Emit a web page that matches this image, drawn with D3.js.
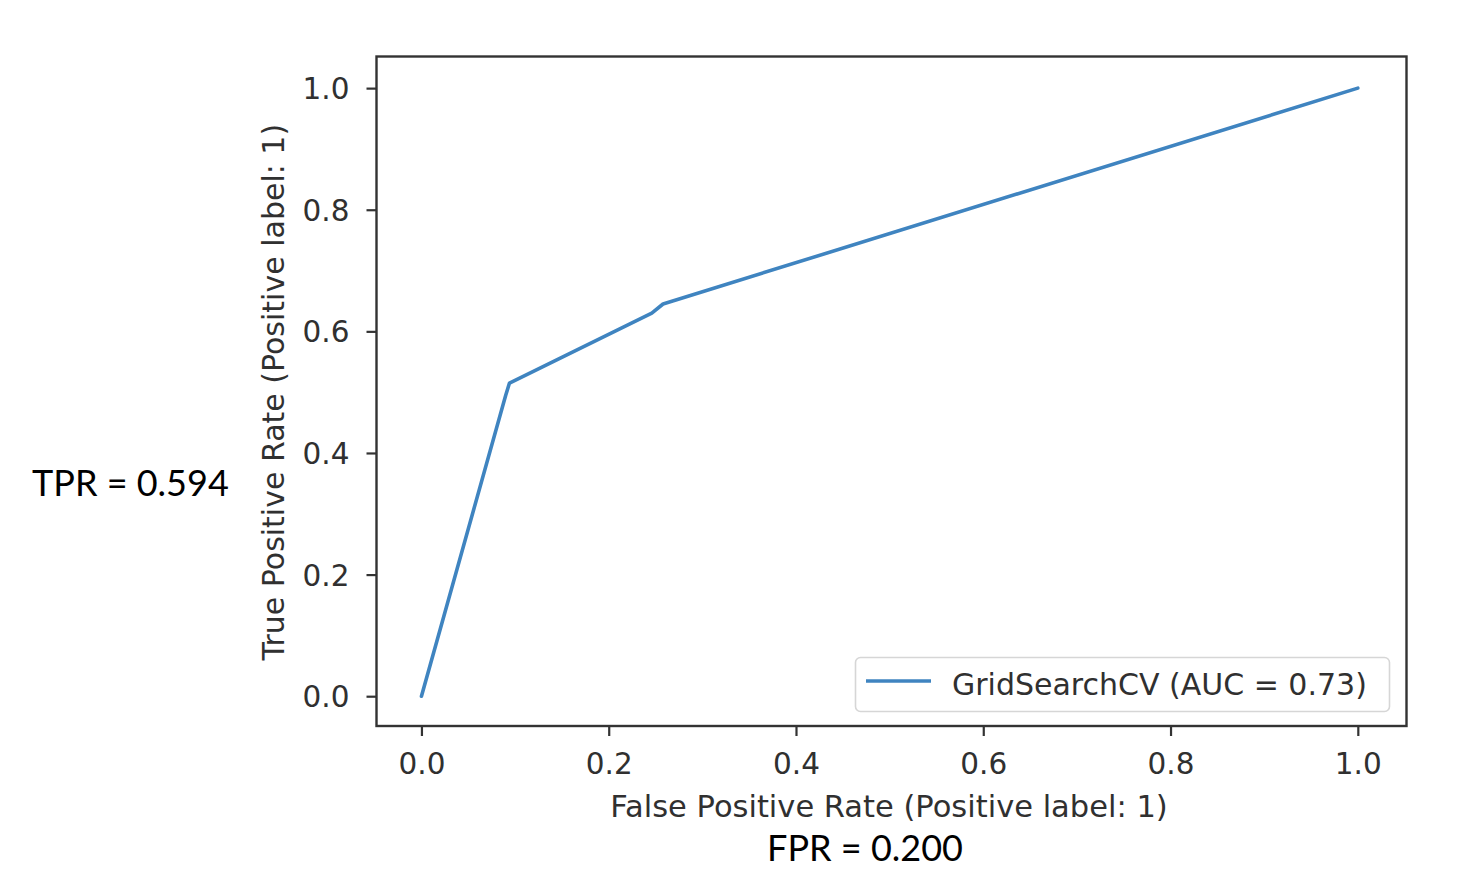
<!DOCTYPE html>
<html>
<head>
<meta charset="utf-8">
<script src="https://cdn.jsdelivr.net/npm/d3@7"></script>
<style>
html,body{margin:0;padding:0;background:#fff;}
svg{display:block;}
</style>
</head>
<body>
<svg id="chart" width="1460" height="884"></svg>
<script>
const fpr = [0, 0.090, 0.094, 0.246, 0.258, 1.0];
const tpr = [0, 0.495, 0.515, 0.630, 0.645, 1.0];
const ticks = [0, 0.2, 0.4, 0.6, 0.8, 1.0];
const xLabel = "False Positive Rate (Positive label: 1)";
const yLabel = "True Positive Rate (Positive label: 1)";
const legendLabel = "GridSearchCV (AUC = 0.73)";
const annX = "FPR = 0.200";
const annY = "TPR = 0.594";

const svg = d3.select("#chart");
const L = 376.5, T = 56.5, W = 1030, H = 669.5;
const x = d3.scaleLinear().domain([-0.048, 1.052]).range([L, L + W]);
const y = d3.scaleLinear().domain([-0.049, 1.052]).range([T + H, T]);
const textCol = "#303030";
const font = "DejaVu Sans, sans-serif";

// axes
const xAxis = svg.append("g").attr("transform", `translate(0,${T + H})`)
  .call(d3.axisBottom(x).tickValues(ticks).tickFormat(d3.format(".1f")).tickSize(10).tickPadding(16));
const yAxis = svg.append("g").attr("transform", `translate(${L},0)`)
  .call(d3.axisLeft(y).tickValues(ticks).tickFormat(d3.format(".1f")).tickSize(10).tickPadding(17));
[xAxis, yAxis].forEach(g => {
  g.select(".domain").remove();
  g.selectAll(".tick line").attr("stroke", "#333").attr("stroke-width", 2.2);
  g.selectAll(".tick text").attr("fill", textCol).style("font-family", font).style("font-size", "29.5px");
});
xAxis.selectAll(".tick text").attr("dy", "0.75em");
yAxis.selectAll(".tick text").attr("dy", "0.36em");

// frame
svg.append("rect").attr("x", L).attr("y", T).attr("width", W).attr("height", H)
  .attr("fill", "none").attr("stroke", "#333").attr("stroke-width", 2.4);

// curve
const pts = fpr.map((f, i) => [f, tpr[i]]);
svg.append("path").datum(pts)
  .attr("d", d3.line().x(d => x(d[0])).y(d => y(d[1])))
  .attr("fill", "none").attr("stroke", "#3f84c0").attr("stroke-width", 3.6)
  .attr("stroke-linejoin", "round").attr("stroke-linecap", "round");

// axis labels
svg.append("text").attr("x", 889).attr("y", 817).attr("text-anchor", "middle")
  .attr("fill", textCol).style("font-family", font).style("font-size", "30.5px").text(xLabel);
svg.append("text").attr("transform", `translate(284,${y(0.5)}) rotate(-90)`).attr("text-anchor", "middle")
  .attr("fill", textCol).style("font-family", font).style("font-size", "30px").text(yLabel);

// legend
const lg = svg.append("g");
lg.append("rect").attr("x", 855.5).attr("y", 657.5).attr("width", 534).attr("height", 54).attr("rx", 5)
  .attr("fill", "#fff").attr("stroke", "#d6d6d6").attr("stroke-width", 1.6);
lg.append("line").attr("x1", 866).attr("x2", 931).attr("y1", 681).attr("y2", 681)
  .attr("stroke", "#3f84c0").attr("stroke-width", 3.6);
lg.append("text").attr("x", 952).attr("y", 695).attr("fill", textCol)
  .style("font-family", font).style("font-size", "30px").text(legendLabel);

// annotations
svg.append("text").attr("x", 865).attr("y", 861).attr("text-anchor", "middle").attr("fill", "#000")
  .style("font-family", "Lato, sans-serif").style("font-size", "36px").text(annX);
svg.append("text").attr("x", 32).attr("y", 496).attr("fill", "#000")
  .style("font-family", "Lato, sans-serif").style("font-size", "36px").text(annY);
</script>
</body>
</html>
